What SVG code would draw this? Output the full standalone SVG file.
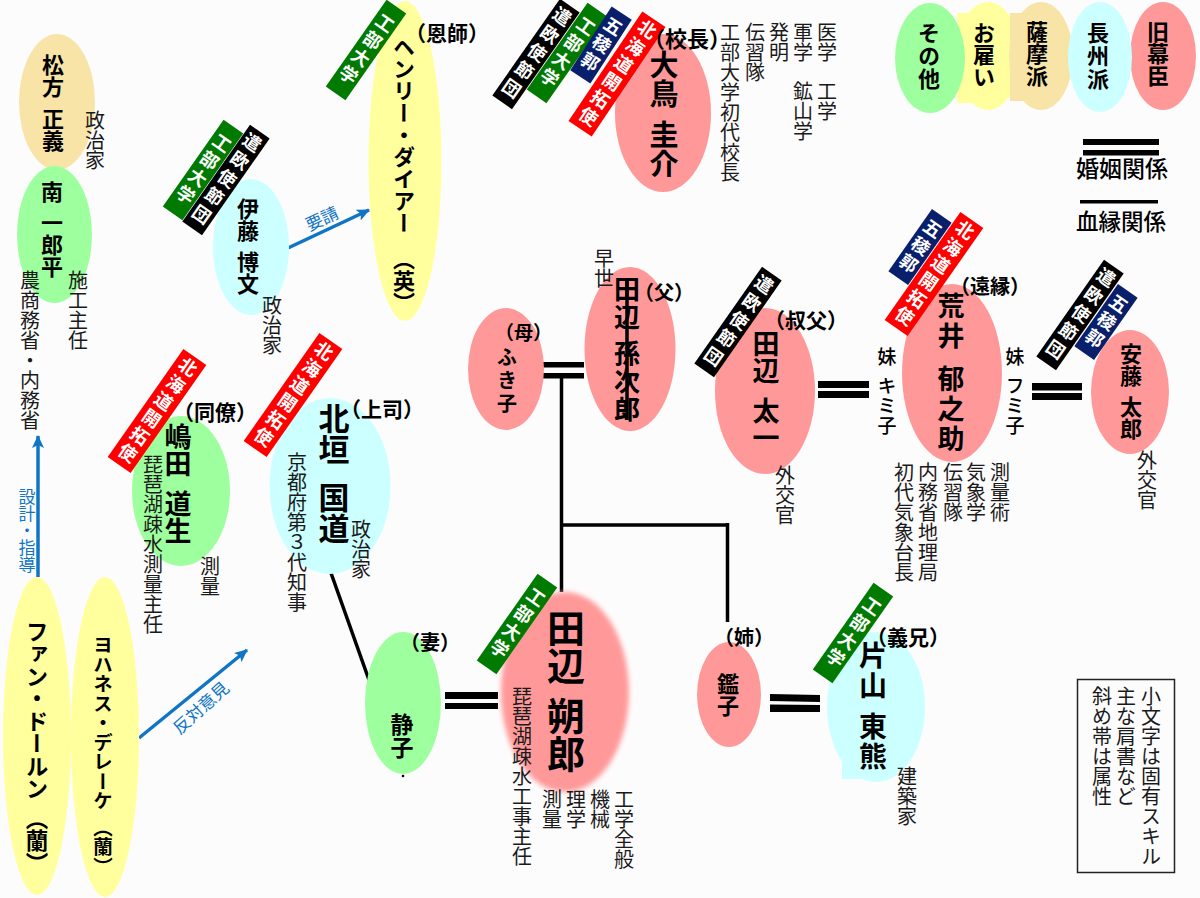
<svg xmlns="http://www.w3.org/2000/svg" width="1200" height="898" viewBox="0 0 1200 898">
<style>
text{font-family:"Noto Sans CJK JP","Noto Sans",sans-serif;fill:#000}
.v{writing-mode:vertical-rl;text-orientation:mixed}
.b{font-weight:700}
.s{font-size:20px;font-weight:400;fill:#1a1a1a}
.t{font-size:19px;font-weight:500;letter-spacing:1px}
.w{font-weight:700;fill:#fff;font-size:18px;text-anchor:middle}
.a{fill:#0f75c4;font-size:17px}
.f1{fill:#ff9999}.f2{fill:#ccffff}.f3{fill:#f9e4a8}.f4{fill:#ffff9e}.f5{fill:#9eff9e}
.gr{fill:#007a00}.bk{fill:#000}.nv{fill:#0a1f6b}.rd{fill:#ff0000}
.m{fill:#000}
.l{stroke:#000;stroke-width:3.5;fill:none}
.ar{stroke:#0f75c4;stroke-width:3.5;fill:none;marker-end:url(#ah)}
</style>
<defs>
<marker id="ah" markerUnits="userSpaceOnUse" markerWidth="14" markerHeight="12" refX="12" refY="6" orient="auto"><path d="M0 0L13 6L0 12L3 6Z" fill="#0f75c4"/></marker>
<filter id="soft" x="-10%" y="-10%" width="120%" height="120%"><feGaussianBlur stdDeviation="2.500"/></filter>
</defs>
<rect width="1200" height="898" fill="#fdfcfd"/>

<g id="legend">
<ellipse class="f1" cx="1163" cy="56" rx="33" ry="54"/>
<rect class="f4" x="957" y="13" width="30" height="90"/><ellipse class="f4" cx="988" cy="56" rx="32" ry="54"/>
<rect class="f3" x="1010" y="13" width="30" height="88"/><ellipse class="f3" cx="1041" cy="56" rx="32" ry="54"/>
<ellipse class="f2" cx="1100" cy="57" rx="32" ry="55"/>
<ellipse class="f5" cx="930" cy="58" rx="35" ry="55"/>
<g class="b" font-size="22">
<text class="v" x="929" y="22" letter-spacing="1">その他</text>
<text class="v" x="984" y="22">お雇い</text>
<text class="v" x="1037" y="21">薩摩派</text>
<text class="v" x="1098" y="22" letter-spacing="1">長州派</text>
<text class="v" x="1158" y="21">旧幕臣</text>
</g>
<rect class="m" x="1083" y="139" width="76" height="6"/>
<rect class="m" x="1083" y="150" width="76" height="5.500"/>
<text x="1076" y="177" font-size="23" font-weight="500">婚姻関係</text>
<rect class="m" x="1080" y="200" width="78" height="3.500"/>
<text x="1076" y="230" font-size="22.500" font-weight="500">血縁関係</text>
</g>

<g id="note">
<rect x="1077.500" y="679.500" width="97" height="193" fill="none" stroke="#222" stroke-width="1.500"/>
<text class="v s" x="1151" y="686">小文字は固有スキル</text>
<text class="v s" x="1126" y="686">主な肩書など</text>
<text class="v s" x="1102" y="686">斜め帯は属性</text>
</g>

<g id="connectors">
<rect class="m" x="540" y="362" width="44" height="5.500"/><rect class="m" x="540" y="373" width="44" height="5.500"/>
<rect class="m" x="818" y="381" width="51" height="7"/><rect class="m" x="818" y="391" width="51" height="7"/>
<rect class="m" x="1032" y="383" width="50" height="7.500"/><rect class="m" x="1032" y="393" width="50" height="7"/>
<rect class="m" x="445" y="692" width="53" height="7"/><rect class="m" x="445" y="703" width="53" height="6"/>
<path class="m" d="M770 694L820 695L820 702L770 701ZM770 704.500L820 705L820 712L770 712Z"/>
<path class="l" d="M561.500 373V592M561.500 525H727.500M727.500 523V622"/>
<path class="l" d="M331 573L369 680"/>
<path class="ar" d="M288 248L369 210"/>
<path class="ar" d="M139 738L247 650"/>
<path class="ar" d="M38 577V436"/>
<text class="a" transform="translate(322 219) rotate(-25)" text-anchor="middle" y="6" font-size="18">要請</text>
<text class="a" transform="translate(201 708) rotate(-42)" text-anchor="middle" y="6" font-size="18">反対意見</text>
<text class="a v" x="27" y="488" font-size="16.500">設計・指導</text>
</g>

<g id="dyer">
<ellipse class="f4" cx="405" cy="161" rx="36.500" ry="160"/>
<g transform="translate(366 50) rotate(35)"><rect class="gr" x="-12" y="-53" width="24" height="106"/><text class="v w" x="0" y="0" letter-spacing="3">工部大学</text></g>
<text class="v b" x="404" y="36" font-size="22">ヘンリー・ダイアー<tspan y="248">（英）</tspan></text>
<text class="b" x="405" y="41" font-size="21">（恩師）</text>
</g>

<g id="matsukata">
<ellipse class="f3" cx="57" cy="102" rx="38" ry="68"/>
<text class="v b" x="53" y="54" font-size="22">松方<tspan y="108">正義</tspan></text>
<text class="v s" x="95" y="110">政治家</text>
</g>

<g id="minami">
<ellipse class="f5" cx="54.500" cy="234.500" rx="37.500" ry="68.500"/>
<text class="v b" x="52" y="181" font-size="22">南<tspan y="212">一郎平</tspan></text>
<text class="v s" x="30" y="270">農商務省・内務省</text>
<text class="v s" x="78" y="270">施工主任</text>
</g>

<g id="ito">
<ellipse class="f2" cx="251" cy="247" rx="38" ry="68"/>
<g transform="translate(226 180) rotate(35)"><rect class="bk" x="-12" y="-59" width="24" height="118"/><text class="v w" x="0" y="0" letter-spacing="4">遣欧使節団</text></g>
<g transform="translate(203 170) rotate(35)"><rect class="gr" x="-12" y="-53" width="24" height="106"/><text class="v w" x="0" y="0" letter-spacing="3">工部大学</text></g>
<text class="v b" x="248" y="198" font-size="22">伊藤<tspan y="251">博文</tspan></text>
<text class="v s" x="272" y="295">政治家</text>
</g>

<g id="otori">
<ellipse class="f1" cx="663" cy="113" rx="48" ry="79"/>
<g transform="translate(536 54) rotate(35)"><rect class="bk" x="-12" y="-59" width="24" height="118"/><text class="v w" x="0" y="0" letter-spacing="4">遣欧使節団</text></g>
<g transform="translate(567 53) rotate(35)"><rect class="gr" x="-12" y="-53" width="24" height="106"/><text class="v w" x="0" y="0" letter-spacing="3">工部大学</text></g>
<g transform="translate(601 45) rotate(33)"><rect class="nv" x="-12" y="-38" width="24" height="76"/><text class="v w" x="0" y="0" letter-spacing="3">五稜郭</text></g>
<g transform="translate(617 74) rotate(34)"><rect class="rd" x="-14" y="-66" width="28" height="132"/><text class="v w" x="0" y="0" letter-spacing="3">北海道開拓使</text></g>
<text class="b" x="643" y="47" font-size="22">（校長）</text>
<text class="v b" x="664" y="50" font-size="29">大鳥<tspan y="120">圭介</tspan></text>
<text class="v s" x="730" y="22">工部大学初代校長</text>
<text class="v s" x="755" y="22">伝習隊</text>
<text class="v s" x="779" y="22">発明</text>
<text class="v s" x="803" y="22">軍学<tspan y="81">鉱山学</tspan></text>
<text class="v s" x="827" y="22">医学<tspan y="81">工学</tspan></text>
</g>

<g id="shimada">
<ellipse class="f5" cx="181" cy="491" rx="49" ry="75"/>
<g transform="translate(157 411) rotate(35)"><rect class="rd" x="-14" y="-66" width="28" height="132"/><text class="v w" x="0" y="0" letter-spacing="3">北海道開拓使</text></g>
<text class="b" x="173" y="420" font-size="21">（同僚）</text>
<text class="v b" x="178" y="423" font-size="27">嶋田<tspan y="490">道生</tspan></text>
<text class="v s" x="153" y="454">琵琶湖疎水測量主任</text>
<text class="v s" x="210" y="556">測量</text>
</g>

<g id="kitagaki">
<ellipse class="f2" cx="330" cy="486" rx="60.500" ry="88"/>
<g transform="translate(293 395) rotate(35)"><rect class="rd" x="-14" y="-66" width="28" height="132"/><text class="v w" x="0" y="0" letter-spacing="3">北海道開拓使</text></g>
<text class="b" x="340" y="417" font-size="21">（上司）</text>
<text class="v b" x="334" y="403" font-size="31">北垣<tspan y="482">国道</tspan></text>
<text class="v s" x="297" y="452">京都府第３代知事</text>
<text class="v s" x="361" y="519">政治家</text>
</g>

<g id="fuki">
<ellipse class="f1" cx="506" cy="369" rx="38" ry="61"/>
<text class="b" x="495" y="340" font-size="19">（母）</text>
<text class="v b" x="507" y="347" font-size="20" letter-spacing="3">ふき子</text>
</g>

<g id="magojiro">
<ellipse class="f1" cx="630" cy="349" rx="45.500" ry="82"/>
<text class="b" x="634" y="300" font-size="20">（父）</text>
<text class="v b" x="627" y="276" font-size="26" letter-spacing="2">田辺<tspan y="340">孫次郎</tspan></text>
<text class="v s" x="604" y="248">早世</text>
<path class="l" d="M627 278V420"/>
</g>

<g id="taichi">
<ellipse class="f1" cx="765" cy="391" rx="50" ry="83"/>
<g transform="translate(738 322) rotate(35)"><rect class="bk" x="-12" y="-59" width="24" height="118"/><text class="v w" x="0" y="0" letter-spacing="4">遣欧使節団</text></g>
<text class="b" x="764" y="328" font-size="21">（叔父）</text>
<text class="v b" x="766" y="330" font-size="27">田辺<tspan y="397">太一</tspan></text>
<text class="v s" x="785" y="465">外交官</text>
</g>

<g id="arai">
<ellipse class="f1" cx="952" cy="373" rx="50" ry="89"/>
<g transform="translate(920 247) rotate(35)"><rect class="nv" x="-12" y="-38" width="24" height="76"/><text class="v w" x="0" y="0" letter-spacing="3">五稜郭</text></g>
<g transform="translate(934 274) rotate(35)"><rect class="rd" x="-14" y="-66" width="28" height="132"/><text class="v w" x="0" y="0" letter-spacing="3">北海道開拓使</text></g>
<text class="b" x="950" y="294" font-size="20">（遠縁）</text>
<text class="v b" x="951" y="292" font-size="27" letter-spacing="3">荒井<tspan y="365">郁之助</tspan></text>
<text class="v t" x="887" y="347">妹<tspan y="376">キミ子</tspan></text>
<text class="v t" x="1015" y="347">妹<tspan y="376">フミ子</tspan></text>
<text class="v s" x="1000" y="462">測量術</text>
<text class="v s" x="976" y="462">気象学</text>
<text class="v s" x="953" y="462">伝習隊</text>
<text class="v s" x="928" y="462">内務省地理局</text>
<text class="v s" x="904" y="462">初代気象台長</text>
</g>

<g id="ando">
<ellipse class="f1" cx="1130" cy="392" rx="39" ry="62"/>
<g transform="translate(1080 315) rotate(35)"><rect class="bk" x="-12" y="-59" width="24" height="118"/><text class="v w" x="0" y="0" letter-spacing="4">遣欧使節団</text></g>
<g transform="translate(1106 322) rotate(35)"><rect class="nv" x="-12" y="-38" width="24" height="76"/><text class="v w" x="0" y="0" letter-spacing="3">五稜郭</text></g>
<text class="v b" x="1131" y="343" font-size="22">安藤<tspan y="396">太郎</tspan></text>
<text class="v s" x="1147" y="450">外交官</text>
</g>

<g id="vandoorn">
<ellipse class="f4" cx="37" cy="736" rx="34" ry="159"/>
<text class="v b" x="37" y="620" font-size="22.500">ファン・ドールン<tspan y="807">（蘭）</tspan></text>
</g>

<g id="derijke">
<ellipse class="f4" cx="105" cy="737" rx="34" ry="160"/>
<text class="v b" x="103" y="635" font-size="19.500">ヨハネス・デレーケ<tspan y="817">（蘭）</tspan></text>
</g>

<g id="shizuko">
<ellipse class="f5" cx="403" cy="703" rx="38" ry="71"/>
<text class="b" x="400" y="650" font-size="20">（妻）</text>
<text class="v b" x="402" y="713" font-size="23">静子</text>
<circle cx="403" cy="776" r="1.300" fill="#000"/>
</g>

<g id="sakuro">
<ellipse class="f1" cx="565" cy="692" rx="64" ry="100" filter="url(#soft)"/>
<g transform="translate(517 624) rotate(35)"><rect class="gr" x="-12" y="-53" width="24" height="106"/><text class="v w" x="0" y="0" letter-spacing="3">工部大学</text></g>
<text class="v b" x="566" y="609" font-size="38">田辺<tspan y="697">朔郎</tspan></text>
<text class="v s" x="522" y="686">琵琶湖疎水工事主任</text>
<text class="v s" x="552" y="789">測量</text>
<text class="v s" x="576" y="789">理学</text>
<text class="v s" x="600" y="789">機械</text>
<text class="v s" x="624" y="789">工学全般</text>
</g>

<g id="kanko">
<ellipse class="f1" cx="729" cy="694.500" rx="32" ry="52.500"/>
<text class="b" x="714" y="645" font-size="20">（姉）</text>
<text class="v b" x="728" y="673" font-size="22">鑑子</text>
</g>

<g id="katayama">
<ellipse class="f2" cx="876" cy="707" rx="49" ry="75"/>
<rect class="f2" x="842" y="750" width="20" height="29"/>
<g transform="translate(853 633) rotate(35)"><rect class="gr" x="-12" y="-53" width="24" height="106"/><text class="v w" x="0" y="0" letter-spacing="3">工部大学</text></g>
<text class="b" x="866" y="645" font-size="21">（義兄）</text>
<text class="v b" x="873" y="641" font-size="28" letter-spacing="2">片山<tspan y="712">東熊</tspan></text>
<text class="v s" x="907" y="766">建築家</text>
</g>
</svg>
